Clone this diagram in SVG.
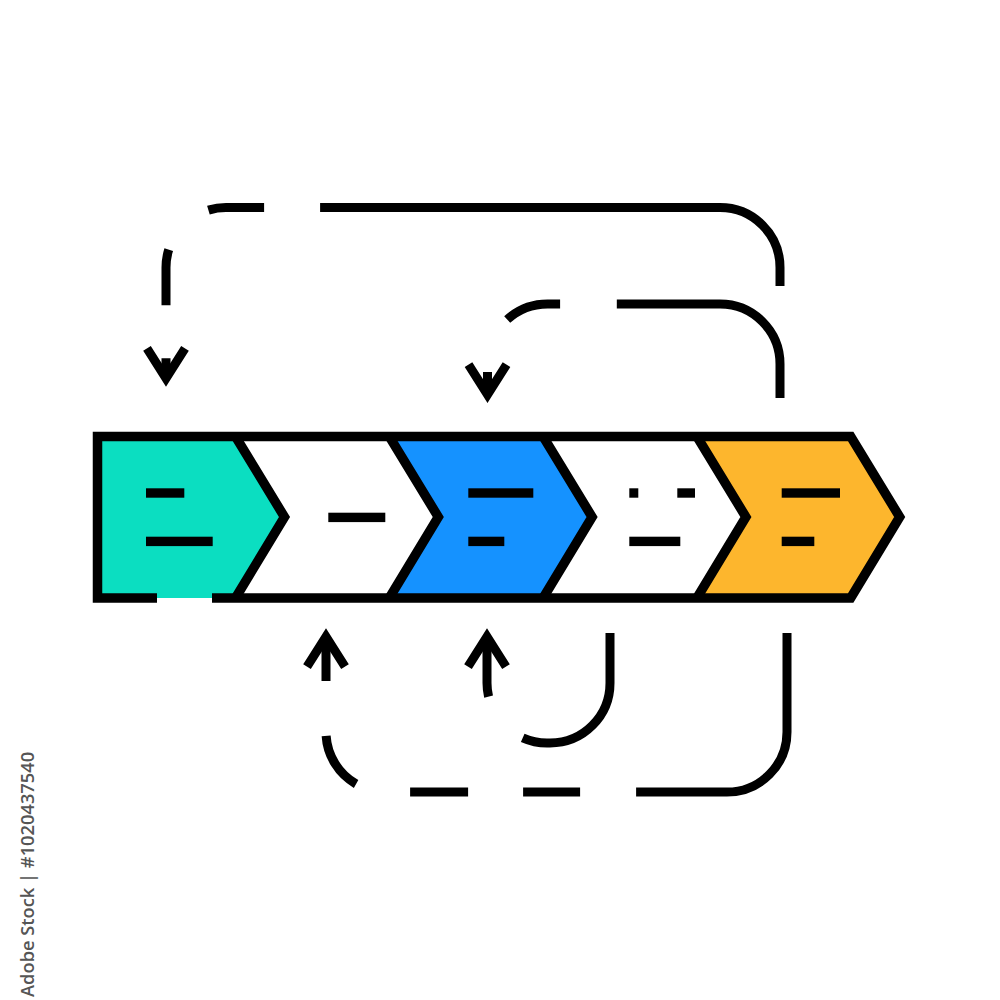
<svg xmlns="http://www.w3.org/2000/svg" width="1000" height="1000" viewBox="0 0 1000 1000">
<style>
.ln{fill:none;stroke:#000;stroke-width:9;stroke-linecap:butt;stroke-linejoin:miter}
.ol{fill:none;stroke:#000;stroke-width:9.5;stroke-linecap:butt;stroke-linejoin:miter;stroke-miterlimit:10}
.bar{fill:#000}
.wm{font-family:"Open Sans","Liberation Sans",sans-serif;font-size:18.3px;font-weight:600;fill:#555}
</style>
<defs>
<marker id="ah" markerUnits="userSpaceOnUse" orient="auto-start-reverse" refX="0" refY="0" markerWidth="80" markerHeight="80" viewBox="-40 -40 80 80" overflow="visible">
<polyline points="-30,-19 0,0 -30,19" fill="none" stroke="#000" stroke-width="9" stroke-linejoin="miter" stroke-miterlimit="10"/>
</marker>
</defs>
<rect width="1000" height="1000" fill="#fff"/>
<g id="bar">
<g id="step1">
<polygon points="97.5,436.5 235.5,436.5 284.5,517 235.5,598 97.5,598" fill="#0BDEC1"/>
<rect class="bar" x="146" y="488.3" width="38.3" height="9.4"/>
<rect class="bar" x="146" y="536.7" width="66.7" height="9.4"/>
</g>
<g id="step2">
<rect class="bar" x="328.3" y="512.7" width="57" height="9.4"/>
</g>
<g id="step3">
<polygon points="389.3,436.5 543.1,436.5 592.1,517 543.1,598 389.3,598 438.3,517" fill="#1592FF"/>
<rect class="bar" x="468.3" y="488.3" width="65" height="9.4"/>
<rect class="bar" x="468.3" y="536.7" width="36" height="9.4"/>
</g>
<g id="step4">
<rect class="bar" x="629.3" y="488.3" width="9" height="9.4"/>
<rect class="bar" x="677.3" y="488.3" width="17.7" height="9.4"/>
<rect class="bar" x="629.3" y="536.7" width="51" height="9.4"/>
</g>
<g id="step5">
<polygon points="696.9,436.5 850.7,436.5 899.7,517 850.7,598 696.9,598 745.9,517" fill="#FDB62D"/>
<rect class="bar" x="781.7" y="488.3" width="58.3" height="9.4"/>
<rect class="bar" x="781.7" y="536.7" width="32.6" height="9.4"/>
</g>
<g id="outline">
<path class="ol" d="M157,598 H97.5 V436.5 H850.7 L899.7,517 L850.7,598 H212"/>
<polyline class="ol" points="235.5,436.5 284.5,517 235.5,598"/>
<polyline class="ol" points="389.3,436.5 438.3,517 389.3,598"/>
<polyline class="ol" points="543.1,436.5 592.1,517 543.1,598"/>
<polyline class="ol" points="696.9,436.5 745.9,517 696.9,598"/>
</g>
</g>
<g id="connectors">
<path class="ln" marker-start="url(#ah)" stroke-dasharray="20 53 56 58 56 56 2000" d="M166,378.3 V267.5 A60,60 0 0 1 226,207.5 H720 A60,60 0 0 1 780,267.5 V286"/>
<path class="ln" marker-start="url(#ah)" stroke-dasharray="22.6 58 56.7 56.7 2000" d="M487.5,394.6 V364 A60,60 0 0 1 547.5,304 H720 A60,60 0 0 1 780,364 V398"/>
<path class="ln" marker-start="url(#ah)" stroke-dasharray="44.3 55 58.8 55.4 58 55 57 56 2000" d="M326,636.7 V732 A60,60 0 0 0 386,792 H727 A60,60 0 0 0 787,732 V633"/>
<path class="ln" marker-start="url(#ah)" stroke-dasharray="60.1 55.3 2000" d="M487,636.7 V683 A60,60 0 0 0 547,743 H550 A60,60 0 0 0 610,683 V633"/>
</g>
<text class="wm" transform="translate(34,997) rotate(-90)">Adobe Stock | #1020437540</text>
</svg>
